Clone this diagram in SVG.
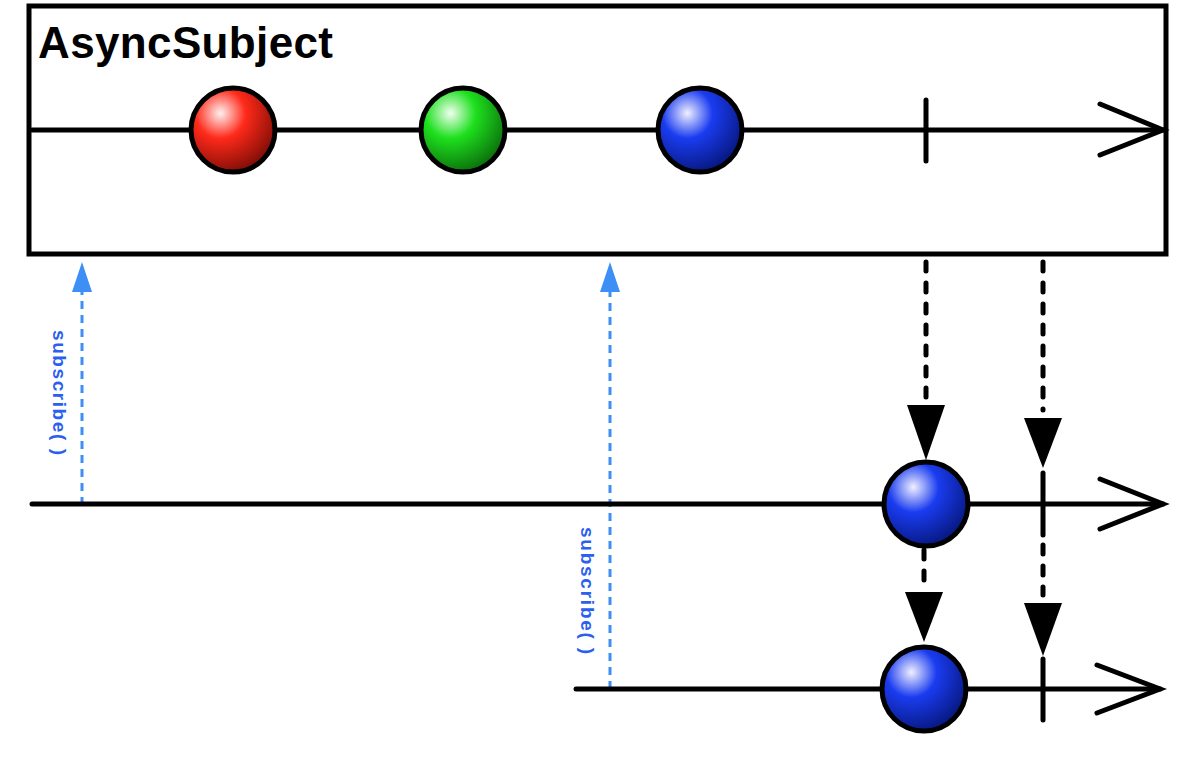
<svg xmlns="http://www.w3.org/2000/svg" width="1200" height="759" viewBox="0 0 1200 759">
<defs>
<radialGradient id="r" cx="0.35" cy="0.3" r="0.75"><stop offset="0" stop-color="#fff0f0"/><stop offset="0.4" stop-color="#ff2a1a"/><stop offset="1" stop-color="#7a0c05"/></radialGradient>
<radialGradient id="g" cx="0.35" cy="0.3" r="0.75"><stop offset="0" stop-color="#f0fff0"/><stop offset="0.4" stop-color="#1ee01e"/><stop offset="1" stop-color="#0a6a0a"/></radialGradient>
<radialGradient id="b" cx="0.35" cy="0.3" r="0.75"><stop offset="0" stop-color="#f0f0ff"/><stop offset="0.4" stop-color="#1a3cf0"/><stop offset="1" stop-color="#06167a"/></radialGradient>
</defs>
<style>
.ln{stroke:#000;stroke-width:5;fill:none;stroke-linecap:round}
.ball{stroke:#000;stroke-width:5}
.bd{stroke:#000;stroke-width:5;stroke-dasharray:9 12;fill:none;stroke-linecap:round}
.blu{stroke:#3d8ff5;stroke-width:3;stroke-dasharray:8 6;fill:none}
.lbl{font-family:"Liberation Sans",Arial,sans-serif;font-weight:bold;font-size:19px;fill:#2a5ff0}
</style>
<g id="subject">
<rect x="29" y="6" width="1137" height="248" fill="#fff" stroke="#000" stroke-width="5"/>
<text x="38" y="58" font-family="Liberation Sans,Arial,sans-serif" font-weight="bold" font-size="44" textLength="295">AsyncSubject</text>
<line class="ln" x1="32" y1="130" x2="1163" y2="130"/>
<polyline class="ln" points="1100,104 1163,130 1100,155"/>
<circle class="ball" cx="233" cy="130" r="42" fill="url(#r)"/>
<circle class="ball" cx="463" cy="130" r="42" fill="url(#g)"/>
<circle class="ball" cx="700" cy="130" r="42" fill="url(#b)"/>
<line class="ln" x1="926" y1="100" x2="926" y2="161"/>
</g>
<g id="connectors">
<line class="bd" x1="926" y1="262" x2="926" y2="400"/>
<path d="M907,405 L945,405 L926,460 z"/>
<line class="bd" x1="1043" y1="262" x2="1043" y2="410"/>
<path d="M1024,418 L1062,418 L1043,468 z"/>
<line class="bd" x1="924" y1="550" x2="924" y2="585"/>
<path d="M905,592 L943,592 L924,642 z"/>
<line class="bd" x1="1043" y1="545" x2="1043" y2="595"/>
<path d="M1024,603 L1062,603 L1043,656 z"/>
<line class="blu" x1="82" y1="505" x2="82" y2="290"/>
<path d="M82,262 L72,292 L92,292 z" fill="#3d8ff5"/>
<line class="blu" x1="610" y1="689" x2="610" y2="290"/>
<path d="M610,262 L600,292 L620,292 z" fill="#3d8ff5"/>
</g>
<g id="label1"><text class="lbl" transform="translate(53,330) rotate(90)" textLength="125">subscribe( )</text></g>
<g id="label2"><text class="lbl" transform="translate(581,527) rotate(90)" textLength="127">subscribe( )</text></g>
<g id="observer1">
<line class="ln" x1="32" y1="504" x2="1163" y2="504"/>
<polyline class="ln" points="1100,479 1163,504 1100,529"/>
<circle class="ball" cx="926" cy="504" r="42" fill="url(#b)"/>
<line class="ln" x1="1043" y1="473" x2="1043" y2="535"/>
</g>
<g id="observer2">
<line class="ln" x1="576" y1="689" x2="1160" y2="689"/>
<polyline class="ln" points="1097,665 1160,689 1097,713"/>
<circle class="ball" cx="924" cy="689" r="42" fill="url(#b)"/>
<line class="ln" x1="1043" y1="659" x2="1043" y2="720"/>
</g>
</svg>
